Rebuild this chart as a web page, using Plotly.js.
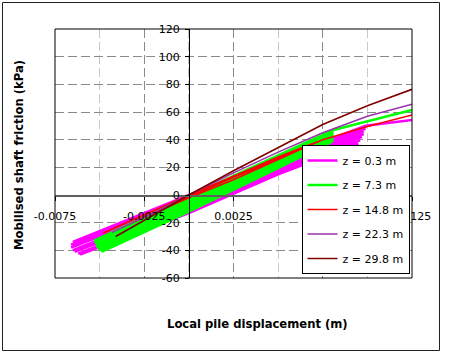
<!DOCTYPE html>
<html>
<head>
<meta charset="utf-8">
<script src="https://cdn.plot.ly/plotly-3.0.1.min.js"></script>
<style>
  html, body { margin: 0; padding: 0; background: #ffffff; }
  #chart { width: 450px; height: 356px; }
</style>
</head>
<body>
<div id="chart"></div>
<script>
// ---------------- data ----------------
const seriesNames = ['z = 0.3 m', 'z = 7.3 m', 'z = 14.8 m', 'z = 22.3 m', 'z = 29.8 m'];

// z = 0.3 m : thin backbone end + cyclic band
const z03_x = [0.0125, 0.0099, 0.005, 0, -0.0065, 0, 0.005, 0.0099, 0.005, 0, -0.0066, 0, 0.005, 0.0098,
               0.005, 0, -0.0066, 0, 0.005, 0.0098, 0.005, 0, -0.0065, 0, 0.005, 0.0097, 0.005, 0, -0.0064,
               0, 0.005, 0.0096, 0.005, 0, -0.0062, 0, 0.005, 0.0095, 0.005, 0, -0.0061];
const z03_y = [54.2, 50, 26, 0, -34, -1, 25, 48, 24, -2, -36, -3, 23, 46,
               22.5, -4, -38, -5, 21.5, 44, 20.5, -6, -40, -7, 19.5, 42, 18.5, -8, -41,
               -9, 17.5, 39.5, 17, -10.5, -42.5, -11.5, 16, 37, 15, -13, -43];

// z = 7.3 m
const z73_x = [0.0125, 0.01, 0.0081, 0, -0.0053, 0, 0.0081, 0, -0.0053, 0, 0.0081, 0, -0.0052, 0, 0.0081,
               0, -0.0052, 0, 0.0081, 0, -0.0051, 0, 0.0081, 0, -0.0050, 0, 0.0080, 0, -0.0049];
const z73_y = [61.5, 53, 47, -1, -33, -2, 45.5, -3, -34.5, -4, 44, -5, -36, -6, 42.5,
               -7, -37.5, -8, 41, -9, -39, -10, 39.5, -11, -40, -11.5, 38.5, -12, -41];

// z = 14.8 m
const z148_x = [-0.0048, -0.0025, 0, 0.0025, 0.005, 0.0072, 0.0025, 0, -0.0030, 0, 0.0025, 0.005, 0.0075, 0.01, 0.0125];
const z148_y = [-27.5, -14.5, 0, 13.5, 27.5, 38.5, 11, -2, -19, -1, 12.5, 26, 40, 49.5, 57.8];

// z = 22.3 m
const z223_x = [-0.0043, -0.002, 0, 0.0025, 0.005, 0.0075, 0.01, 0.0125];
const z223_y = [-27, -13, 0, 16, 31, 45, 57, 65.6];

// z = 29.8 m
const z298_x = [-0.0041, -0.002, 0, 0.0025, 0.005, 0.0075, 0.01, 0.0125];
const z298_y = [-30, -14.5, 0, 17.5, 34.5, 51, 64.5, 76.4];

const xRange = [-0.0075, 0.0125];
const yRange = [-60, 120];
const xTickVals = [-0.0075, -0.0025, 0.0025, 0.0075, 0.0125];
const xTickText = ['-0.0075', '-0.0025', '0.0025', '0.0075', '0.0125'];
const xMinorVals = [-0.005, 0, 0.005, 0.01];
const yTickVals = [-60, -40, -20, 0, 20, 40, 60, 80, 100, 120];
const yTickText = ['-60', '-40', '-20', '0', '20', '40', '60', '80', '100', '120'];

const xTitle = 'Local pile displacement (m)';
const yTitle = 'Mobilised shaft friction (kPa)';

// ---------------- styling / layout ----------------
const colors = ['#ff00ff', '#00ff00', '#ff0000', '#9933aa', '#800000'];
const widths = [2.6, 2.6, 1.6, 1.6, 1.6];
const xs = [z03_x, z73_x, z148_x, z223_x, z298_x];
const ys = [z03_y, z73_y, z148_y, z223_y, z298_y];

const FONT = 'DejaVu Sans, Verdana, sans-serif';
const WIDTH = 450, HEIGHT = 356;
const M = { l: 55, r: 38, t: 29, b: 78 };
const PW = WIDTH - M.l - M.r, PH = HEIGHT - M.t - M.b;
const px2x = p => (p - M.l) / PW;
const px2y = p => (HEIGHT - M.b - p) / PH;

const traces = seriesNames.map((name, i) => ({
  type: 'scatter',
  mode: 'lines',
  name: name,
  x: xs[i],
  y: ys[i],
  line: { color: colors[i], width: widths[i] },
  legendgroup: 'g' + i,
  hoverinfo: 'skip'
}));

const layout = {
  width: WIDTH,
  height: HEIGHT,
  margin: M,
  paper_bgcolor: '#ffffff',
  plot_bgcolor: '#ffffff',
  font: { family: FONT, size: 11, color: '#000000' },
  showlegend: true,
  legend: {
    x: px2x(301.5), y: px2y(145), xanchor: 'left', yanchor: 'top',
    bgcolor: '#ffffff', bordercolor: '#000000', borderwidth: 1,
    font: { family: FONT, size: 11, color: '#000000' },
    tracegroupgap: 5.5
  },
  xaxis: {
    range: xRange,
    anchor: 'free',
    position: (0 - yRange[0]) / (yRange[1] - yRange[0]),
    tickmode: 'array', tickvals: xTickVals, ticktext: xTickText,
    ticks: 'outside', ticklen: 4, tickcolor: '#000000', tickwidth: 1,
    ticklabelstandoff: 6,
    tickfont: { family: FONT, size: 11, color: '#000000' },
    showgrid: true, gridcolor: '#8a8a8a', gridwidth: 1, griddash: '9px,4px',
    minor: { tickmode: 'array', tickvals: xMinorVals, showgrid: true, gridcolor: '#c8c8c8', gridwidth: 1.2, ticks: '' },
    showline: true, linecolor: '#606060', linewidth: 1.6,
    zeroline: false, fixedrange: true
  },
  yaxis: {
    range: yRange,
    anchor: 'free',
    position: (0 - xRange[0]) / (xRange[1] - xRange[0]),
    tickmode: 'array', tickvals: yTickVals, ticktext: yTickText,
    ticks: 'outside', ticklen: 4, tickcolor: '#000000', tickwidth: 1,
    ticklabelstandoff: 3,
    tickfont: { family: FONT, size: 11, color: '#000000' },
    showgrid: true, gridcolor: '#8a8a8a', gridwidth: 1, griddash: '9px,4px',
    showline: true, linecolor: '#000000', linewidth: 1.4,
    zeroline: false, fixedrange: true
  },
  shapes: [
    { type: 'rect', xref: 'paper', yref: 'paper', x0: 0, x1: 1, y0: 0, y1: 1,
      line: { color: '#000000', width: 1 }, fillcolor: 'rgba(0,0,0,0)', layer: 'above' },
    { type: 'rect', xref: 'paper', yref: 'paper',
      x0: px2x(2.5), x1: px2x(439.5), y0: px2y(350.5), y1: px2y(2.5),
      line: { color: '#222222', width: 1 }, fillcolor: 'rgba(0,0,0,0)', layer: 'below' }
  ],
  annotations: [
    { text: '<b>' + xTitle + '</b>', xref: 'paper', yref: 'paper',
      x: px2x(257), y: px2y(324), xanchor: 'center', yanchor: 'middle', showarrow: false,
      font: { family: FONT, size: 11.6, color: '#000000' } },
    { text: '<b>' + yTitle + '</b>', xref: 'paper', yref: 'paper',
      x: px2x(19), y: px2y(155), xanchor: 'center', yanchor: 'middle', showarrow: false,
      textangle: -90, font: { family: FONT, size: 11.6, color: '#000000' } }
  ]
};

Plotly.newPlot('chart', traces, layout, { displayModeBar: false, staticPlot: true });
</script>
</body>
</html>
